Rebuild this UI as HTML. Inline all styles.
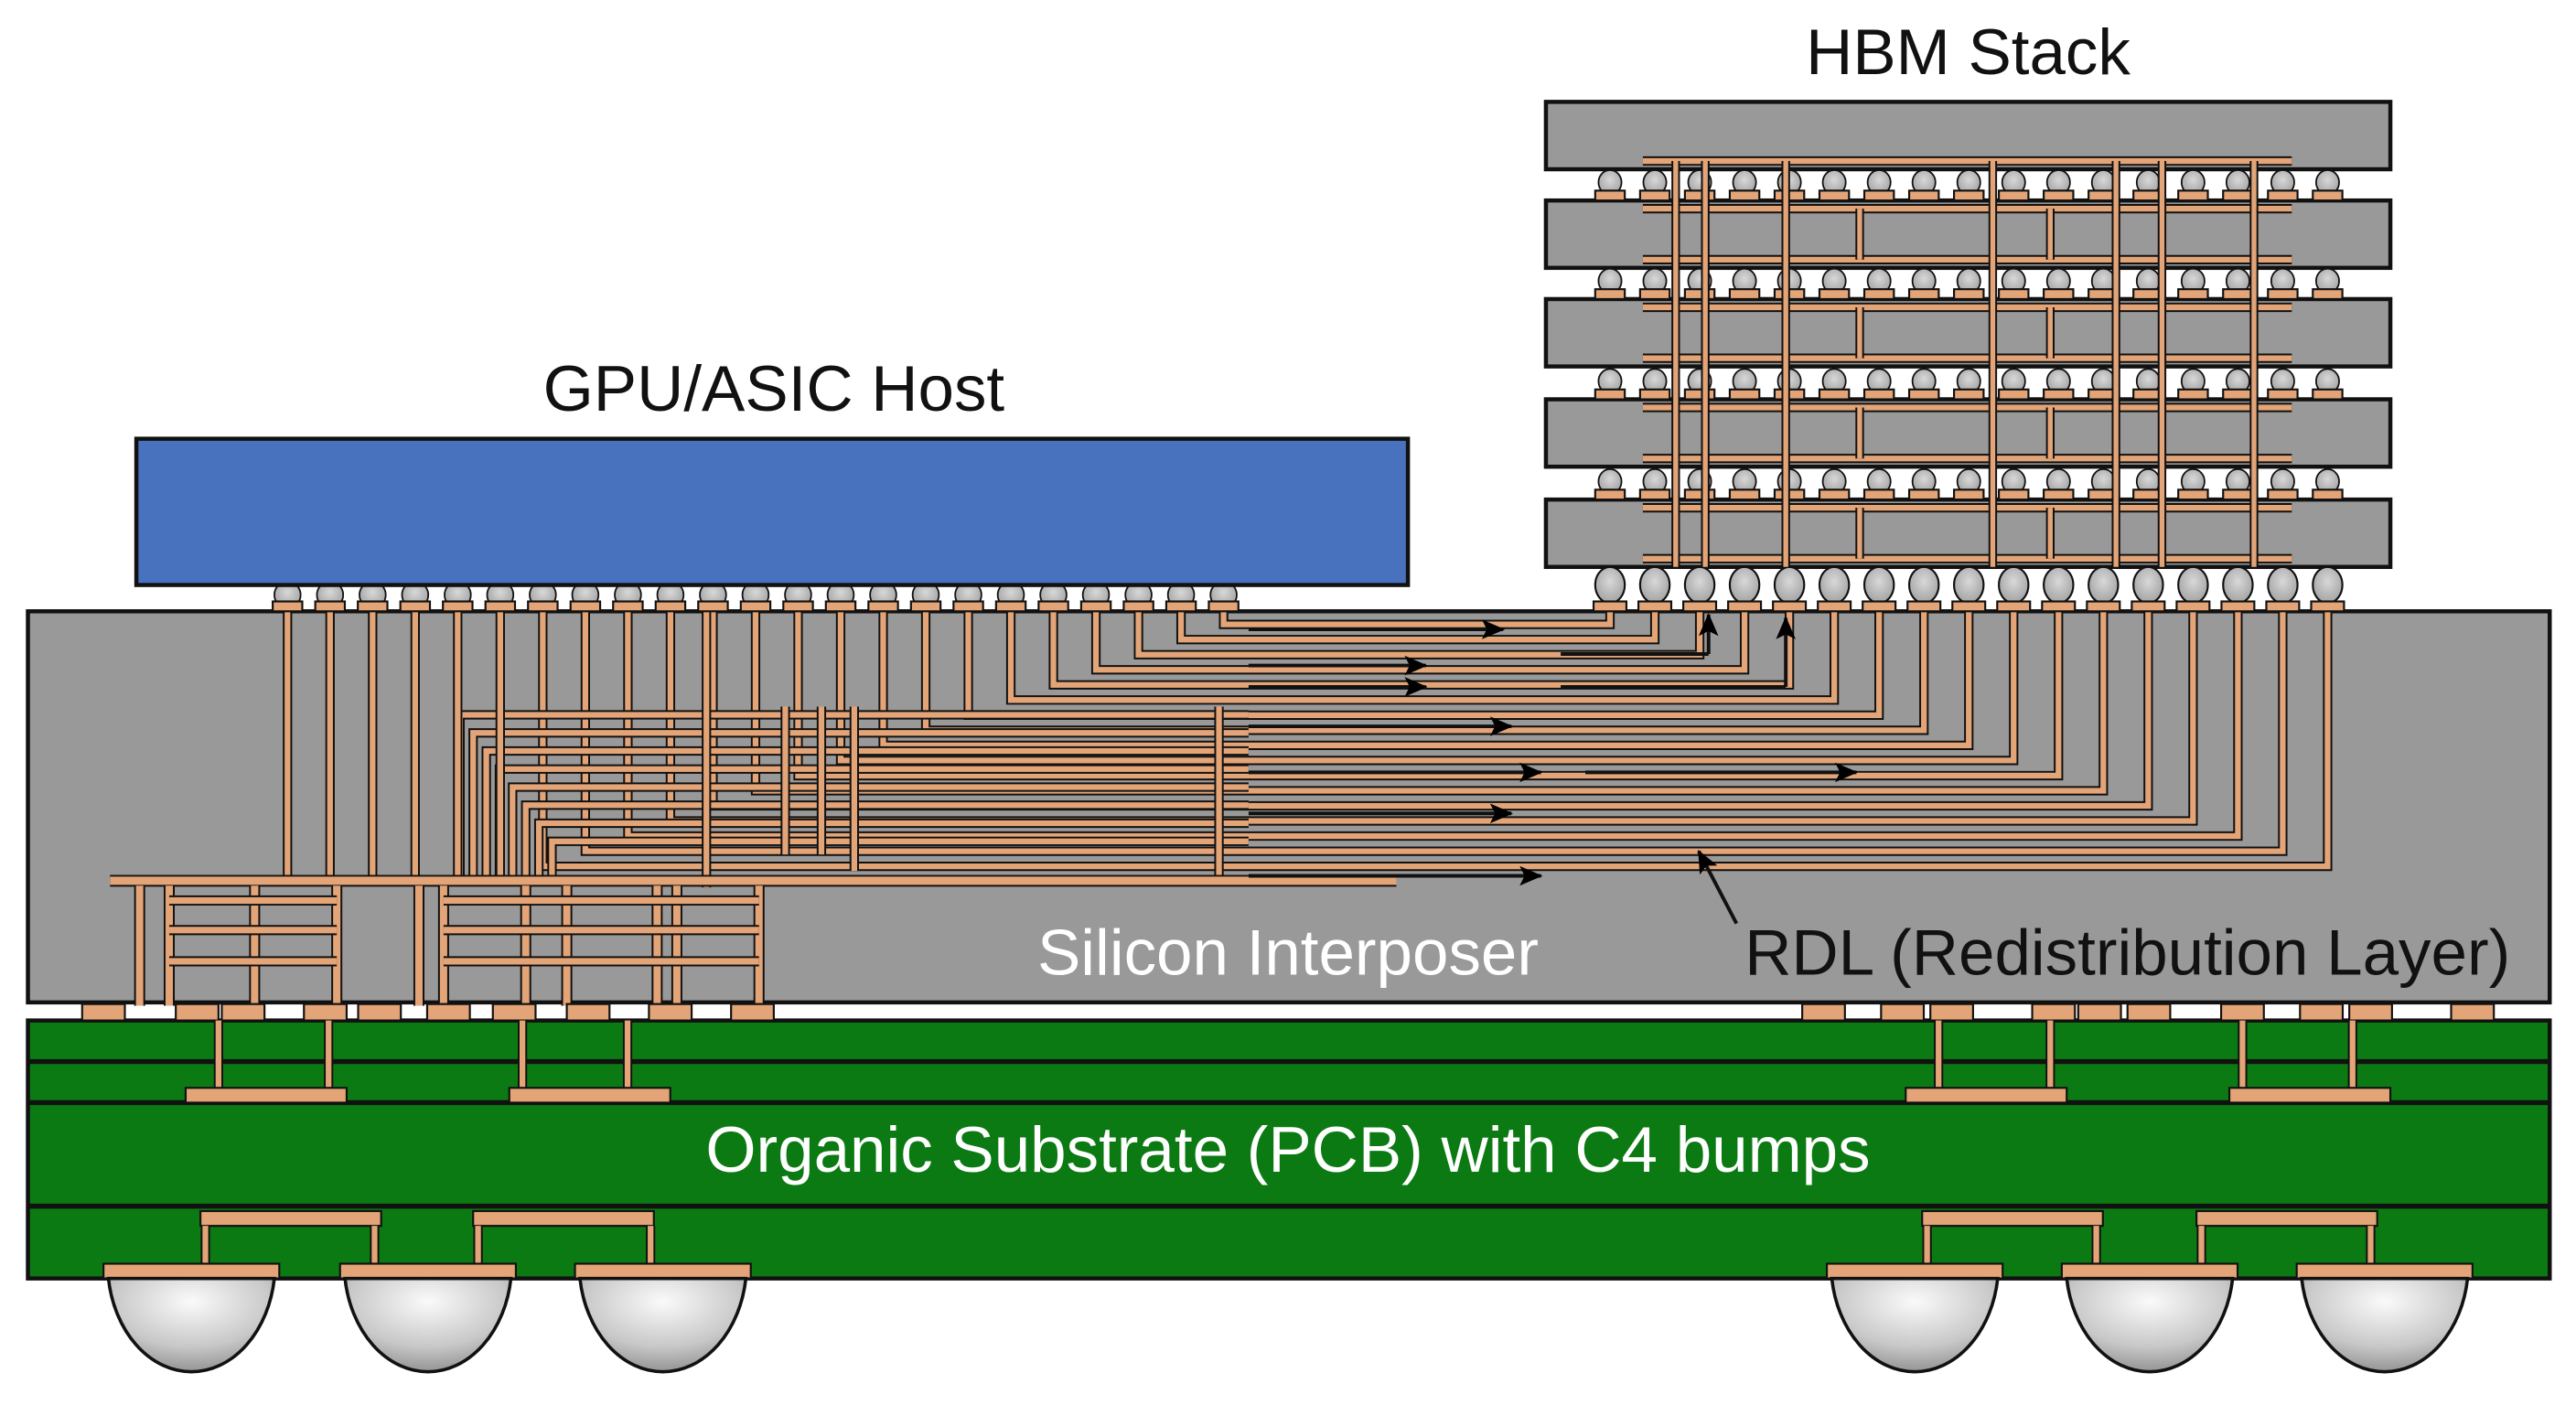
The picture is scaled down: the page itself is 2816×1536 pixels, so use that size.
<!DOCTYPE html>
<html><head><meta charset="utf-8"><style>
html,body{margin:0;padding:0;background:#fff;width:2816px;height:1536px;overflow:hidden}
svg{display:block}
text{font-family:"Liberation Sans",sans-serif}
</style></head><body>
<svg id="s" width="2816" height="1536" viewBox="0 0 1568 855" preserveAspectRatio="none" xmlns="http://www.w3.org/2000/svg">
<defs>
<radialGradient id="ball" cx="0.5" cy="0.25" r="0.8"><stop offset="0" stop-color="#fafafa"/><stop offset="0.6" stop-color="#c8c8c8"/><stop offset="1" stop-color="#8a8a8a"/></radialGradient>
<radialGradient id="mb" cx="0.5" cy="0.4" r="0.7"><stop offset="0" stop-color="#d8d8d8"/><stop offset="1" stop-color="#9a9a9a"/></radialGradient>
<marker id="ah" markerWidth="14" markerHeight="12" refX="13" refY="6" orient="auto" markerUnits="userSpaceOnUse"><path d="M0,0 L14,6 L0,12 L3,6 Z" fill="#000"/></marker>
</defs>
<rect width="1568" height="855" fill="#fff"/>
<text x="1198" y="45" font-size="39.5" text-anchor="middle" fill="#111">HBM Stack</text>
<text x="471" y="250" font-size="39.5" text-anchor="middle" fill="#111">GPU/ASIC Host</text>
<rect x="17" y="372" width="1535" height="238" fill="#999" stroke="#111" stroke-width="2.5"/>
<rect x="17" y="621" width="1535" height="157" fill="#0c7a12" stroke="#111" stroke-width="2.5"/>
<line x1="17" y1="646" x2="1552" y2="646" stroke="#111" stroke-width="3"/>
<line x1="17" y1="671" x2="1552" y2="671" stroke="#111" stroke-width="3"/>
<line x1="17" y1="734" x2="1552" y2="734" stroke="#111" stroke-width="3"/>
<g id="g"></g>
<rect x="83" y="267" width="774" height="89" fill="#4872bd" stroke="#111" stroke-width="2.5"/>
<text x="784" y="593" font-size="39.5" text-anchor="middle" fill="#fff">Silicon Interposer</text>
<text x="1295" y="593" font-size="39.5" text-anchor="middle" fill="#111">RDL (Redistribution Layer)</text>
<text x="784" y="713" font-size="39.5" text-anchor="middle" fill="#fff">Organic Substrate (PCB) with C4 bumps</text>
</svg>
<script>
var g=document.getElementById('g'),NS='http://www.w3.org/2000/svg';
function el(t,a){var e=document.createElementNS(NS,t);for(var k in a)e.setAttribute(k,a[k]);g.appendChild(e);return e;}
function cu(pts,w){w=w||3.5;var d='M'+pts.map(function(p){return p[0]+','+p[1]}).join(' L');
 el('path',{d:d,fill:'none',stroke:'#111','stroke-width':w+2.2,'stroke-linejoin':'miter'});
 el('path',{d:d,fill:'none',stroke:'#e3a477','stroke-width':w,'stroke-linejoin':'miter'});}
function pad(x,y,w,h){el('rect',{x:x,y:y,width:w,height:h,fill:'#e3a477',stroke:'#111','stroke-width':1.2});}
var gx=[];for(var i=0;i<23;i++)gx.push(175+25.9*i);
var hx=[];for(var j=0;j<17;j++)hx.push(980+27.3*j);
for(var k=0;k<17;k++){var y=380+k*9.2;var a=gx[22-k],b=hx[k];cu([[a,372],[a,y],[b,y],[b,372]]);}
for(var k=0;k<8;k++){var y=435+k*11;cu([[280+k*8,533],[280+k*8,y],[760,y]]);}
cu([[430,372],[430,540]]);cu([[478,430],[478,520]]);cu([[500,430],[500,520]]);cu([[520,430],[520,530]]);cu([[742,430],[742,533]]);
for(var i=0;i<6;i++){cu([[gx[i],372],[gx[i],533]]);}
cu([[67,536],[850,536]],5);
[85,103,155,205,255,270,320,345,400,412,462].forEach(function(x){cu([[x,539],[x,612]],4.5);});
[548,566,585].forEach(function(y){cu([[103,y],[205,y]],4);cu([[270,y],[462,y]],4);});
[[760,383,915],[760,405,868],[760,418,868],[760,442,920],[760,470,938],[760,495,920],[760,533,938],[965,470,1130]].forEach(function(a){el('line',{x1:a[0],y1:a[1],x2:a[2],y2:a[1],stroke:'#111','stroke-width':2.2,'marker-end':'url(#ah)'});});
el('line',{x1:950,y1:398,x2:1040,y2:398,stroke:'#111','stroke-width':2.2});
el('line',{x1:1040,y1:398,x2:1040,y2:374,stroke:'#111','stroke-width':2.2,'marker-end':'url(#ah)'});
el('line',{x1:950,y1:418,x2:1087,y2:418,stroke:'#111','stroke-width':2.2});
el('line',{x1:1087,y1:418,x2:1087,y2:376,stroke:'#111','stroke-width':2.2,'marker-end':'url(#ah)'});
el('line',{x1:1057,y1:562,x2:1034,y2:518,stroke:'#111','stroke-width':2.2,'marker-end':'url(#ah)'});
gx.forEach(function(x){el('ellipse',{cx:x,cy:362,rx:8,ry:8,fill:'url(#mb)',stroke:'#111','stroke-width':1});pad(x-9,366,18,6);});
[50,107,135,185,218,260,300,345,395,445,1097,1145,1175,1237,1265,1295,1352,1400,1430,1492].forEach(function(x){pad(x,611,26,10);});
[[113,133,200],[310,318,382],[1160,1180,1248],[1357,1365,1432]].forEach(function(a){cu([[a[1],621],[a[1],663]],3.5);cu([[a[2],621],[a[2],663]],3.5);pad(a[0],662,98,9);});
[[122,125,228],[288,291,396],[1170,1173,1276],[1337,1340,1443]].forEach(function(a){pad(a[0],737,110,9);cu([[a[1],746],[a[1],769]],3.5);cu([[a[2],746],[a[2],769]],3.5);});
[63,207,350,1112,1255,1398].forEach(function(x){pad(x,769,107,9);
 el('path',{d:'M'+(x+3)+',778 A51,66 0 0 0 '+(x+104)+',778 Z',fill:'url(#ball)',stroke:'#111','stroke-width':2});});
el('rect',{x:941,y:62,width:514,height:41,fill:'#999',stroke:'#111','stroke-width':2.5});
[122,182,243,304].forEach(function(y){el('rect',{x:941,y:y,width:514,height:41,fill:'#999',stroke:'#111','stroke-width':2.5});
 cu([[1000,y+5],[1395,y+5]],3.5);cu([[1000,y+36],[1395,y+36]],3.5);
 cu([[1132,y+5],[1132,y+36]],3);cu([[1248,y+5],[1248,y+36]],3);});
[103,163,224,285].forEach(function(y){hx.forEach(function(x){el('ellipse',{cx:x,cy:y+8,rx:7,ry:7.5,fill:'url(#mb)',stroke:'#111','stroke-width':1});pad(x-9,y+13,18,6);});});
hx.forEach(function(x){el('ellipse',{cx:x,cy:356,rx:9,ry:11,fill:'url(#mb)',stroke:'#111','stroke-width':1.2});pad(x-10,366,20,6);});
cu([[1000,98],[1395,98]],3.5);
[1020,1038,1087,1213,1288,1316,1372].forEach(function(x){cu([[x,98],[x,345]],3);});
</script>
</body></html>
